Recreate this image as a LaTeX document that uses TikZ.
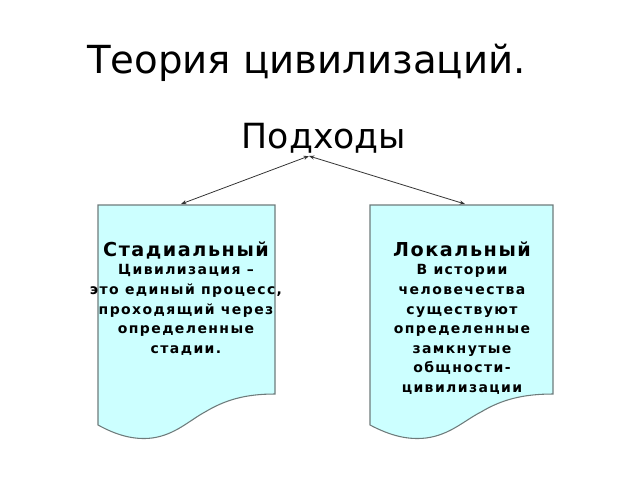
\documentclass[tikz,border=0pt]{standalone}
\usepackage{fontspec}
\setmainfont{DejaVu Sans}
\usetikzlibrary{arrows.meta}
\definecolor{docfill}{HTML}{CCFFFF}
\definecolor{docedge}{HTML}{6E7B7B}
\newcommand\myheadsize{\fontsize{14.4}{14.7}\selectfont\addfontfeature{LetterSpace=8}}
\newcommand\mybodysize{\fontsize{10.5}{14.7}\selectfont\addfontfeature{LetterSpace=10}}
\begin{document}
\begin{tikzpicture}[x=0.75pt,y=-0.75pt,
  docshape/.style={draw=docedge, fill=docfill, line width=0.8pt},
  link/.style={draw=black!80, line width=0.6pt, {Stealth[length=4pt,width=3pt]}-{Stealth[length=4pt,width=3pt]}},
  bodytext/.style={align=center, inner sep=0pt, anchor=north, font=\bfseries\mybodysize},
  titletext/.style={anchor=base, inner sep=0pt}
]
\useasboundingbox (0,0) rectangle (640,480);
\node[titletext, font=\fontsize{29}{34}\selectfont] (title) at (306.5,73) {Теория цивилизаций.};
\node[titletext, font=\fontsize{26}{30}\selectfont] (approach) at (324,148) {Подходы};
\path[docshape] (98,205) -- (275,205) -- (275,394) .. controls (245,394) and (225,400) .. (205,412) .. controls (190,420) and (175,435) .. (152,438) .. controls (135,440) and (118,436) .. (98,425) -- cycle;
\path[docshape] (370,205) -- (553,205) -- (553,394) .. controls (522,394) and (501,400) .. (481,412) .. controls (465,420) and (450,435) .. (426,438) .. controls (408,440) and (391,436) .. (370,425) -- cycle;
\coordinate (apex) at (309,156);
\coordinate (ltop) at (181,204);
\coordinate (rtop) at (465,204);
\draw[link] (apex) -- (ltop);
\draw[link] (apex) -- (rtop);
\node[bodytext] (stage) at (186,242) {{\myheadsize Стадиальный}\\[-1.2pt]Цивилизация –\\это единый процесс,\\проходящий через\\определенные\\стадии.};
\node[bodytext] (local) at (462,242) {{\myheadsize Локальный}\\[-1.2pt]В истории\\человечества\\существуют\\определенные\\замкнутые\\общности-\\цивилизации};
\end{tikzpicture}
\end{document}
